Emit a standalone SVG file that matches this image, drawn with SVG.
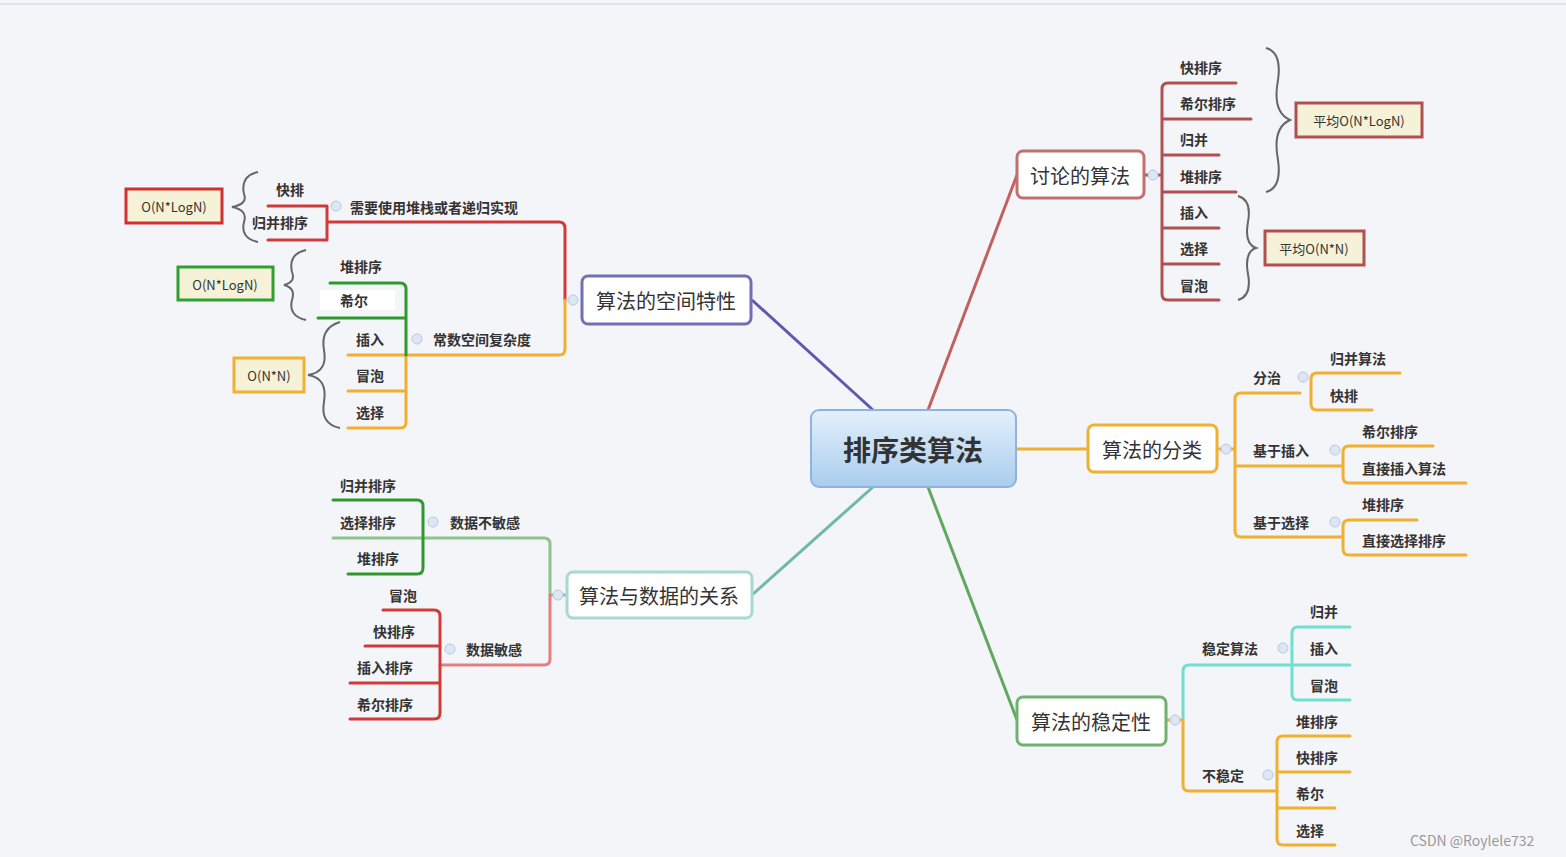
<svg xmlns="http://www.w3.org/2000/svg" width="1566" height="857" viewBox="0 0 1566 857">
<defs>
<linearGradient id="cg" x1="0" y1="0" x2="0" y2="1"><stop offset="0" stop-color="#e4f0fb"/><stop offset="1" stop-color="#a9cdee"/></linearGradient>
<style>
text{font-family:"Noto Sans CJK SC","Liberation Sans",sans-serif;fill:#333;dominant-baseline:central}
.l{font-size:14px;font-weight:bold}
.m{font-size:20px}
.b{font-size:13px}
.w{fill:none;stroke-width:3;stroke-linejoin:round;stroke-linecap:round}
.r{stroke:#d03a3a}.br{stroke:#b05050}.o{stroke:#f0b030}.g{stroke:#2e9a2e}.t{stroke:#6fe0d0}.lg{stroke:#8cc48c}.lr{stroke:#e08080}
.box{fill:#fff;stroke-width:3}
.nb{fill:#f5f2d8;stroke-width:3}
.br2{fill:none;stroke:#666;stroke-width:2}
.c{fill:#dde6f4;stroke:#b8c8e0}
</style>
</defs>
<rect width="1566" height="857" fill="#f4f5f8"/>
<line x1="0" y1="4" x2="1566" y2="4" stroke="#dfe3ec" stroke-width="2"/>
<g id="connectors">
<line x1="928" y1="410" x2="1017" y2="175" stroke="#c06060" stroke-width="3"/>
<line x1="873" y1="410" x2="752" y2="300" stroke="#5a5ab0" stroke-width="3"/>
<line x1="1016" y1="449" x2="1088" y2="449" stroke="#f0b030" stroke-width="3"/>
<line x1="873" y1="487" x2="752" y2="595" stroke="#70b8a8" stroke-width="3"/>
<line x1="928" y1="487" x2="1017" y2="720" stroke="#60a860" stroke-width="3"/>
<!-- 讨论的算法 -->
<path class="w br" d="M1144 175H1162M1236 83H1168Q1162 83 1162 89V294Q1162 300 1168 300H1219M1162 119H1251M1162 155H1219M1162 192H1236M1162 228H1219M1162 264H1219"/>
<path class="br2" d="M1266 48Q1282 52 1278 80Q1272 112 1290 120Q1272 128 1278 160Q1282 188 1266 192"/>
<path class="br2" d="M1238 196Q1252 200 1248 222Q1244 244 1256 248Q1244 252 1248 274Q1252 296 1238 300"/>
<!-- 空间特性 -->
<path class="w r" d="M565 300V228Q565 222 559 222H327M327 206H268M327 240H268M327 206V240"/>
<path class="w o" d="M565 300V349Q565 355 559 355H406M406 355V422Q406 428 400 428H348M406 355H348M406 391H348"/>
<path class="w g" d="M330 283H400Q406 283 406 289V355M318 318H406"/>
<path class="br2" d="M258 172Q240 176 244 194Q248 204 232 207Q248 210 244 222Q240 238 258 242"/>
<path class="br2" d="M306 250Q288 254 292 272Q296 282 284 285Q296 288 292 300Q288 316 306 320"/>
<path class="br2" d="M340 322Q320 328 324 350Q328 372 308 375Q328 378 324 402Q320 424 340 428"/>
<!-- 分类 -->
<path class="w o" d="M1217 449H1235M1300 393H1241Q1235 393 1235 399V531Q1235 537 1241 537H1343M1235 466H1343M1400 373H1317Q1311 373 1311 379V404Q1311 410 1317 410H1372M1433 446H1349Q1343 446 1343 452V477Q1343 483 1349 483H1466M1417 520H1349Q1343 520 1343 526V549Q1343 555 1349 555H1466"/>
<!-- 稳定性 -->
<path class="w t" d="M1183 720V671Q1183 665 1189 665H1350M1350 627H1298Q1292 627 1292 633V694Q1292 700 1298 700H1350"/>
<path class="w o" d="M1166 720H1183V785Q1183 791 1189 791H1277M1350 736H1283Q1277 736 1277 742V839Q1277 845 1283 845H1335M1277 772H1350M1277 808H1335"/>
<!-- 数据关系 -->
<path class="w lg" d="M567 595H550V544Q550 538 544 538H333"/>
<path class="w lr" d="M550 595V659Q550 665 544 665H440"/>
<path class="w g" d="M333 500H417Q423 500 423 506V568Q423 574 417 574H348"/>
<path class="w r" d="M383 610H434Q440 610 440 616V713Q440 719 434 719H350M440 646H365M440 683H350"/>
</g>
<g id="center"><rect x="811" y="410" width="205" height="77" rx="8" fill="url(#cg)" stroke="#8fb4dc" stroke-width="2"/><text x="913" y="449" text-anchor="middle" font-size="28" font-weight="bold">排序类算法</text></g>
<g id="n-discuss"><rect class="box" x="1017" y="151" width="127" height="47" rx="6" stroke="#c07070"/><text class="m" x="1080" y="175" text-anchor="middle">讨论的算法</text><circle class="c" cx="1153" cy="175" r="5"/></g>
<g id="n-space"><rect class="box" x="582" y="276" width="169" height="48" rx="6" stroke="#7070b8"/><text class="m" x="666" y="300" text-anchor="middle">算法的空间特性</text><circle class="c" cx="573" cy="300" r="5"/></g>
<g id="n-class"><rect class="box" x="1088" y="425" width="129" height="47" rx="6" stroke="#f0b030"/><text class="m" x="1152" y="449" text-anchor="middle">算法的分类</text><circle class="c" cx="1226" cy="449" r="5"/></g>
<g id="n-data"><rect class="box" x="567" y="572" width="185" height="46" rx="6" stroke="#a8d8d0"/><text class="m" x="659" y="595" text-anchor="middle">算法与数据的关系</text><circle class="c" cx="558" cy="595" r="5"/></g>
<g id="n-stable"><rect class="box" x="1017" y="697" width="149" height="48" rx="6" stroke="#70b070"/><text class="m" x="1091" y="721" text-anchor="middle">算法的稳定性</text><circle class="c" cx="1175" cy="720" r="5"/></g>
<g id="leaves-discuss">
<text class="l" x="1180" y="67">快排序</text><text class="l" x="1180" y="103">希尔排序</text><text class="l" x="1180" y="139">归并</text><text class="l" x="1180" y="176">堆排序</text><text class="l" x="1180" y="212">插入</text><text class="l" x="1180" y="248">选择</text><text class="l" x="1180" y="285">冒泡</text>
<rect class="nb" x="1296" y="103" width="126" height="34" stroke="#b05050"/><text class="b" x="1359" y="120" text-anchor="middle">平均O(N*LogN)</text>
<rect class="nb" x="1265" y="231" width="99" height="34" stroke="#b05050"/><text class="b" x="1314" y="248" text-anchor="middle">平均O(N*N)</text>
</g>
<g id="leaves-space">
<text class="l" x="350" y="207">需要使用堆栈或者递归实现</text><circle class="c" cx="336" cy="206" r="5"/>
<text class="l" x="276" y="189">快排</text><text class="l" x="252" y="222">归并排序</text>
<rect class="nb" x="126" y="189" width="96" height="34" stroke="#d03030"/><text class="b" x="174" y="206" text-anchor="middle">O(N*LogN)</text>
<text class="l" x="433" y="339">常数空间复杂度</text><circle class="c" cx="417" cy="339" r="5"/>
<text class="l" x="340" y="266">堆排序</text><rect x="320" y="290" width="75" height="20" fill="#fff"/><text class="l" x="340" y="300">希尔</text>
<text class="l" x="356" y="339">插入</text><text class="l" x="356" y="375">冒泡</text><text class="l" x="356" y="412">选择</text>
<rect class="nb" x="178" y="267" width="95" height="33" stroke="#30a030"/><text class="b" x="225" y="284" text-anchor="middle">O(N*LogN)</text>
<rect class="nb" x="234" y="358" width="70" height="34" stroke="#f0b030"/><text class="b" x="269" y="375" text-anchor="middle">O(N*N)</text>
</g>
<g id="leaves-class">
<text class="l" x="1253" y="377">分治</text><circle class="c" cx="1303" cy="377" r="5"/>
<text class="l" x="1330" y="358">归并算法</text><text class="l" x="1330" y="395">快排</text>
<text class="l" x="1253" y="450">基于插入</text><circle class="c" cx="1335" cy="450" r="5"/>
<text class="l" x="1362" y="431">希尔排序</text><text class="l" x="1362" y="468">直接插入算法</text>
<text class="l" x="1253" y="522">基于选择</text><circle class="c" cx="1335" cy="522" r="5"/>
<text class="l" x="1362" y="504">堆排序</text><text class="l" x="1362" y="540">直接选择排序</text>
</g>
<g id="leaves-stable">
<text class="l" x="1202" y="648">稳定算法</text><circle class="c" cx="1283" cy="648" r="5"/>
<text class="l" x="1310" y="611">归并</text><text class="l" x="1310" y="648">插入</text><text class="l" x="1310" y="685">冒泡</text>
<text class="l" x="1202" y="775">不稳定</text><circle class="c" cx="1268" cy="775" r="5"/>
<text class="l" x="1296" y="721">堆排序</text><text class="l" x="1296" y="757">快排序</text><text class="l" x="1296" y="793">希尔</text><text class="l" x="1296" y="830">选择</text>
</g>
<g id="leaves-data">
<text class="l" x="450" y="522">数据不敏感</text><circle class="c" cx="433" cy="522" r="5"/>
<text class="l" x="340" y="485">归并排序</text><text class="l" x="340" y="522">选择排序</text><text class="l" x="357" y="558">堆排序</text>
<text class="l" x="466" y="649">数据敏感</text><circle class="c" cx="450" cy="649" r="5"/>
<text class="l" x="389" y="595">冒泡</text><text class="l" x="373" y="631">快排序</text><text class="l" x="357" y="667">插入排序</text><text class="l" x="357" y="704">希尔排序</text>
</g>
<text x="1410" y="840" font-size="14" style="fill:#999">CSDN @Roylele732</text>
</svg>
